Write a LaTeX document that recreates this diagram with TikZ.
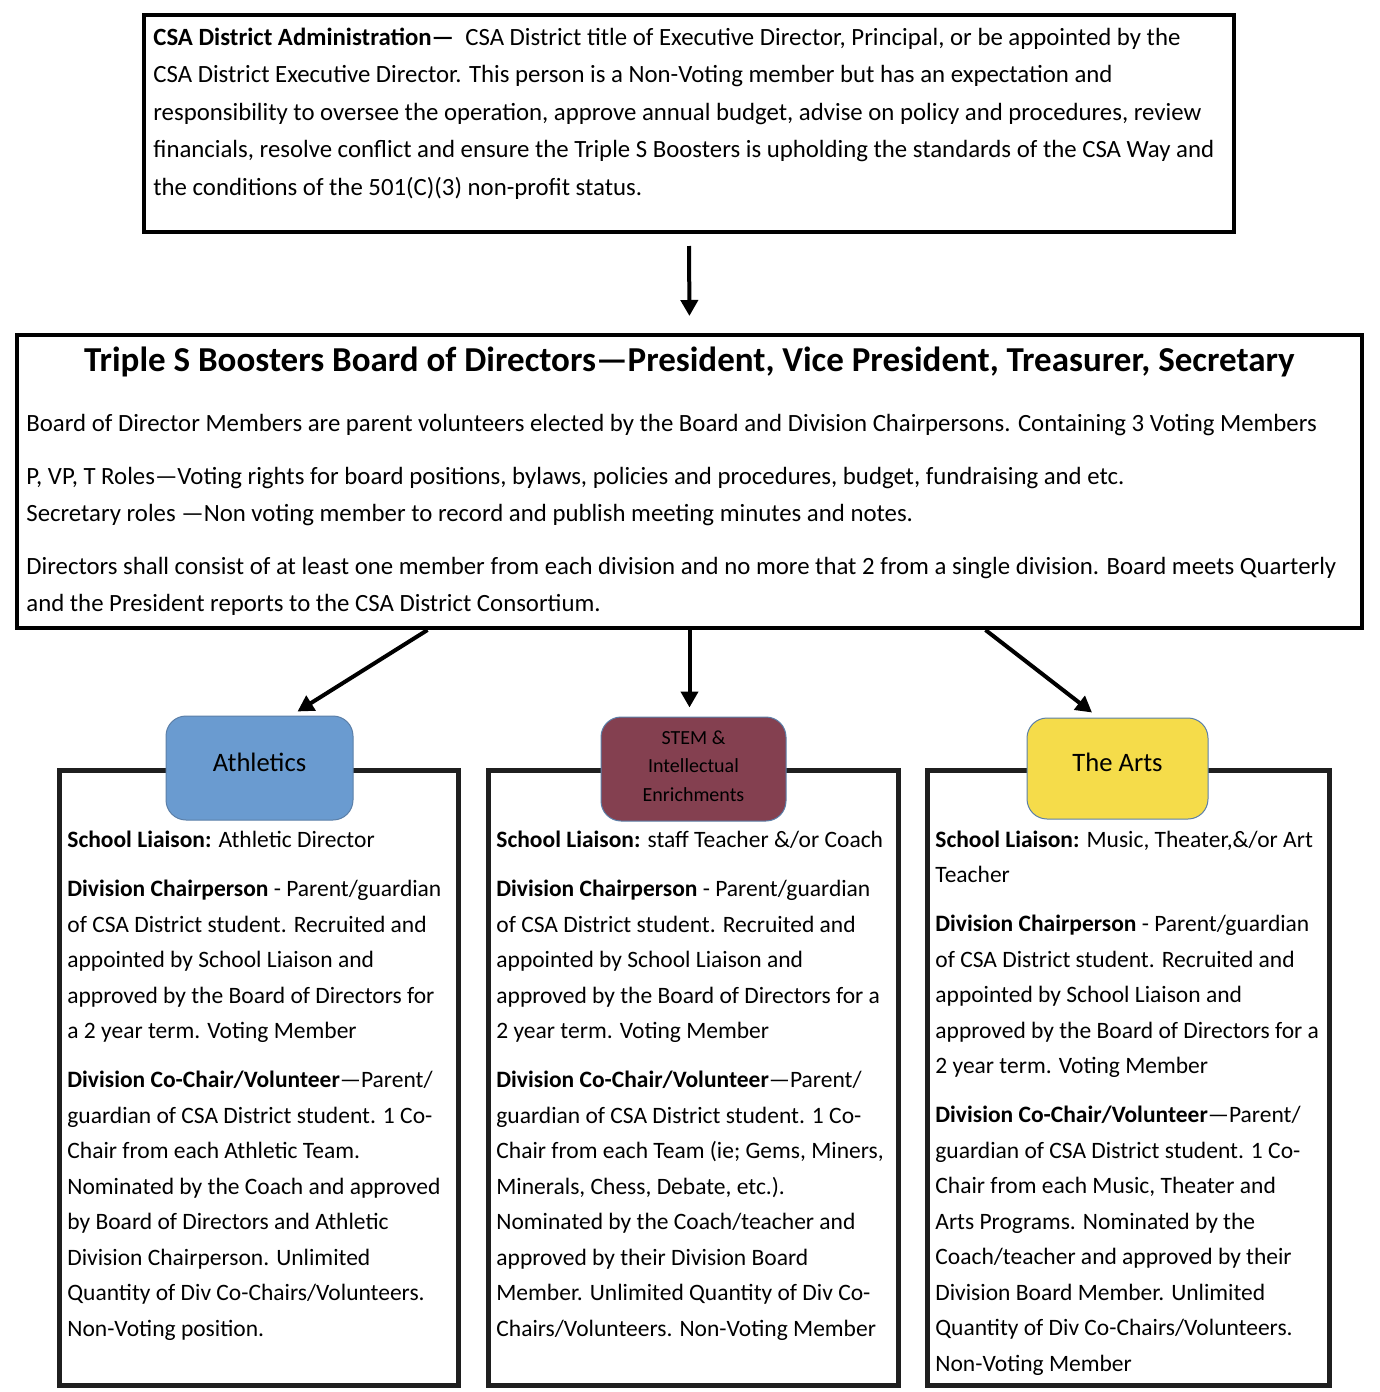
\documentclass[tikz,border=0pt]{standalone}
\usepackage{fontspec}
\setmainfont{Carlito}
\usetikzlibrary{arrows.meta,positioning}
\definecolor{athblue}{HTML}{6A9BD0}
\definecolor{stemred}{HTML}{844050}
\definecolor{artsyellow}{HTML}{F5DC4A}
\definecolor{tabedge}{HTML}{5B7FA8}
\tikzset{bigbox/.style={draw, line width=2pt, inner sep=0pt},
  colbox/.style={draw=black!88, line width=2.5pt, inner sep=0pt},
  tab/.style={draw=tabedge, line width=0.5pt, rounded corners=10pt, inner sep=0pt, align=center, font=\fontsize{13.3}{14}\selectfont},
  body/.style={inner sep=0pt, align=left, anchor=base west},
  arr/.style={-{Triangle[width=8.5pt,length=8pt]}, line width=2pt}}

\begin{document}
\begin{tikzpicture}[x=0.5pt,y=-0.5pt]
    \useasboundingbox (0,0) rectangle (1380,1392);
    \node[bigbox, minimum width=545pt, minimum height=108.5pt] (admin) at (689,123.5) {};
    \node[body, font=\fontsize{12.4}{18.75}\selectfont] (admintext) at (153,195)
      {\textbf{CSA District Administration—}~ CSA District title of Executive Director, Principal, or be appointed by the\\
       CSA District Executive Director. This person is a Non-Voting member but has an expectation and\\
       responsibility to oversee the operation, approve annual budget, advise on policy and procedures, review\\
       financials, resolve conflict and ensure the Triple S Boosters is upholding the standards of the CSA Way and\\
       the conditions of the 501(C)(3) non-profit status.};
    \node[bigbox, minimum width=672.5pt, minimum height=146.5pt] (board) at (689.5,481.5) {};
    \node[inner sep=0pt, anchor=base, font=\fontsize{17.5}{20}\selectfont\bfseries] (boardtitle) at (689.5,371)
      {Triple S Boosters Board of Directors—President, Vice President, Treasurer, Secretary};
    \node[body, font=\fontsize{12.4}{18.5}\selectfont] (boardtext) at (26,611)
      {Board of Director Members are parent volunteers elected by the Board and Division Chairpersons. Containing 3 Voting Members\\[8pt]
       P, VP, T Roles—Voting rights for board positions, bylaws, policies and procedures, budget, fundraising and etc.\\
       Secretary roles —Non voting member to record and publish meeting minutes and notes.\\[8pt]
       Directors shall consist of at least one member from each division and no more that 2 from a single division. Board meets Quarterly\\
       and the President reports to the CSA District Consortium.};
    \node[colbox, minimum width=199.5pt, minimum height=307.5pt] (athcol) at (259,1078) {};
    \node[colbox, minimum width=205pt, minimum height=307.5pt] (stemcol) at (693.5,1078) {};
    \node[colbox, minimum width=201pt, minimum height=307.5pt] (artscol) at (1128.5,1078) {};
    \node[tab, fill=athblue, minimum width=93.5pt, minimum height=52pt, text depth=6pt] (athletics) at (259.5,768) {Athletics};
    \node[tab, fill=stemred, minimum width=92.5pt, minimum height=52pt, font=\fontsize{10}{14.25}\selectfont] (stem) at (693.5,769)
      {STEM \&\\ Intellectual\\ Enrichments\\[-11pt]};
    \node[tab, fill=artsyellow, minimum width=90.5pt, minimum height=50.5pt, text depth=6pt] (arts) at (1117.5,768.5) {The Arts};
    \node[body, font=\fontsize{11.75}{17.75}\selectfont] (athtext) at (67,1336)
      {\textbf{School Liaison:} Athletic Director\\[6.75pt]
       \textbf{Division Chairperson} - Parent/guardian\\
       of CSA District student. Recruited and\\
       appointed by School Liaison and\\
       approved by the Board of Directors for\\
       a 2 year term. Voting Member\\[6.75pt]
       \textbf{Division Co-Chair/Volunteer}—Parent/\\
       guardian of CSA District student. 1 Co-\\
       Chair from each Athletic Team.\\
       Nominated by the Coach and approved\\
       by Board of Directors and Athletic\\
       Division Chairperson. Unlimited\\
       Quantity of Div Co-Chairs/Volunteers.\\
       Non-Voting position.};
    \node[body, font=\fontsize{11.75}{17.75}\selectfont] (stemtext) at (496,1336)
      {\textbf{School Liaison:} staff Teacher \&/or Coach\\[6.75pt]
       \textbf{Division Chairperson} - Parent/guardian\\
       of CSA District student. Recruited and\\
       appointed by School Liaison and\\
       approved by the Board of Directors for a\\
       2 year term. Voting Member\\[6.75pt]
       \textbf{Division Co-Chair/Volunteer}—Parent/\\
       guardian of CSA District student. 1 Co-\\
       Chair from each Team (ie; Gems, Miners,\\
       Minerals, Chess, Debate, etc.).\\
       Nominated by the Coach/teacher and\\
       approved by their Division Board\\
       Member. Unlimited Quantity of Div Co-\\
       Chairs/Volunteers. Non-Voting Member};
    \node[body, font=\fontsize{11.75}{17.75}\selectfont] (artstext) at (935,1371)
      {\textbf{School Liaison:} Music, Theater,\&/or Art\\
       Teacher\\[6.75pt]
       \textbf{Division Chairperson} - Parent/guardian\\
       of CSA District student. Recruited and\\
       appointed by School Liaison and\\
       approved by the Board of Directors for a\\
       2 year term. Voting Member\\[6.75pt]
       \textbf{Division Co-Chair/Volunteer}—Parent/\\
       guardian of CSA District student. 1 Co-\\
       Chair from each Music, Theater and\\
       Arts Programs. Nominated by the\\
       Coach/teacher and approved by their\\
       Division Board Member. Unlimited\\
       Quantity of Div Co-Chairs/Volunteers.\\
       Non-Voting Member};
    \draw[arr, shorten <=6pt, shorten >=8.5pt] (admin.south) -- (board.north);
    \draw[arr, shorten >=4.5pt] (board.south) -- (board.south |- stem.north);
    \draw[arr] ([xshift=-131pt]board.south) -- ([xshift=19pt,yshift=2pt]athletics.north);
    \draw[arr] ([xshift=148pt]board.south) -- ([xshift=-12.75pt,yshift=2.5pt]arts.north);
\end{tikzpicture}
\end{document}
